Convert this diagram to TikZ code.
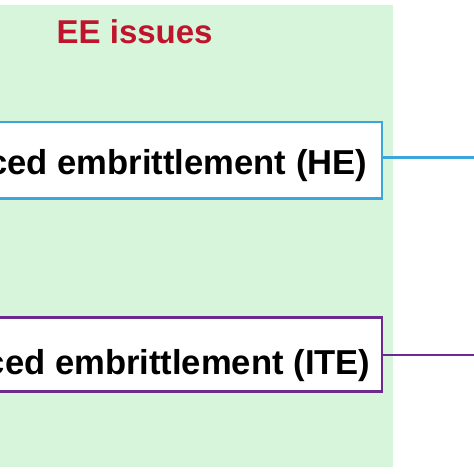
\documentclass[tikz,border=0pt]{standalone}
\usepackage{fontspec}
\setmainfont{Liberation Sans}
\definecolor{eegreen}{HTML}{D6F5DB}
\definecolor{eeblue}{HTML}{3AA6DA}
\definecolor{eepurple}{HTML}{6A2A8E}
\definecolor{eered}{HTML}{C0142C}
\begin{document}
\begin{tikzpicture}[x=1pt,y=-1pt,
  boxframe/.style={draw, line width=2.5pt, fill=white, rectangle, inner sep=0pt, minimum width=460pt},
  boxtext/.style={inner sep=0pt, font=\fontsize{34.6}{40}\selectfont\bfseries, text=black},
  titletext/.style={inner sep=0pt, font=\fontsize{33}{38}\selectfont\bfseries, text=eered},
  conn/.style={line width=2.5pt}]
\useasboundingbox (0,0) rectangle (474,474);
\clip (0,0) rectangle (474,474);
\fill[eegreen] (0,5) rectangle (393,467);
\node[titletext, anchor=base west] (title) at (56.5,43.5) {EE issues};
% top box
\node[boxframe, draw=eeblue, minimum height=76.7pt, anchor=east] (he) at (383.3,160.3) {};
\node[boxtext, anchor=base east] (het) at (367.4,174) {uced embrittlement (HE)};
\coordinate (hend) at (480,157.7);
\draw[conn, eeblue] (he.east |- hend) -- (hend);
% bottom box
\node[boxframe, draw=eepurple, minimum height=74.4pt, anchor=east] (ite) at (383.3,354.5) {};
\node[boxtext, anchor=base east] (itet) at (370.6,374) {uced embrittlement (ITE)};
\coordinate (iend) at (480,355);
\draw[conn, eepurple] (ite.east |- iend) -- (iend);
\end{tikzpicture}
\end{document}
